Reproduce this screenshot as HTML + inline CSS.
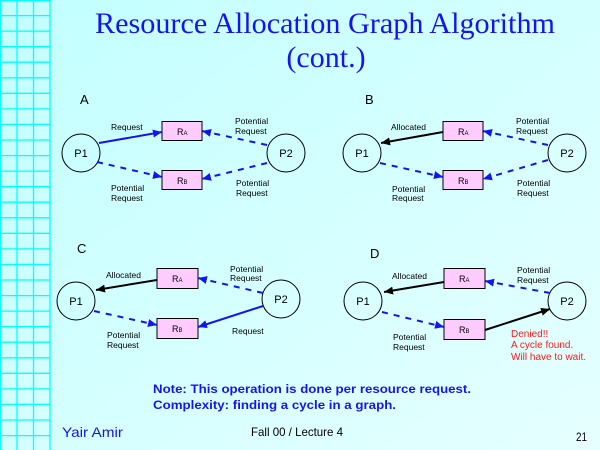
<!DOCTYPE html>
<html><head><meta charset="utf-8"><style>
html,body{margin:0;padding:0;}
body{width:600px;height:450px;overflow:hidden;background:linear-gradient(to bottom right,#c2ffff,#e6ffff);}
svg{display:block;}
</style></head><body>
<svg width="600" height="450" viewBox="0 0 600 450" xmlns="http://www.w3.org/2000/svg" font-family="'Liberation Sans', Arial, sans-serif">
<defs>
<marker id="hb" markerUnits="userSpaceOnUse" markerWidth="10" markerHeight="9" refX="9" refY="4" orient="auto"><path d="M0,0 L9,4 L0,8 z" fill="#1414f0"/></marker>
<marker id="hk" markerUnits="userSpaceOnUse" markerWidth="10" markerHeight="9" refX="9" refY="4" orient="auto"><path d="M0,0 L9,4 L0,8 z" fill="#000"/></marker>
</defs>
<!-- grid -->
<g stroke="#00ffff" stroke-width="1.3">
<line x1="0.7" y1="0" x2="0.7" y2="450"/><line x1="17" y1="0" x2="17" y2="450"/><line x1="33.5" y1="0" x2="33.5" y2="450"/><line x1="50" y1="0" x2="50" y2="450"/>
<line x1="0" y1="0.7" x2="50" y2="0.7"/><line x1="0" y1="15.6" x2="50" y2="15.6"/><line x1="0" y1="31.1" x2="50" y2="31.1"/><line x1="0" y1="46.7" x2="50" y2="46.7"/><line x1="0" y1="62.2" x2="50" y2="62.2"/><line x1="0" y1="77.8" x2="50" y2="77.8"/><line x1="0" y1="93.3" x2="50" y2="93.3"/><line x1="0" y1="108.9" x2="50" y2="108.9"/><line x1="0" y1="124.4" x2="50" y2="124.4"/><line x1="0" y1="140" x2="50" y2="140"/><line x1="0" y1="155.6" x2="50" y2="155.6"/><line x1="0" y1="171.1" x2="50" y2="171.1"/><line x1="0" y1="186.7" x2="50" y2="186.7"/><line x1="0" y1="202.2" x2="50" y2="202.2"/><line x1="0" y1="217.8" x2="50" y2="217.8"/><line x1="0" y1="233.3" x2="50" y2="233.3"/><line x1="0" y1="248.9" x2="50" y2="248.9"/><line x1="0" y1="264.4" x2="50" y2="264.4"/><line x1="0" y1="280" x2="50" y2="280"/><line x1="0" y1="295.6" x2="50" y2="295.6"/><line x1="0" y1="311.1" x2="50" y2="311.1"/><line x1="0" y1="326.7" x2="50" y2="326.7"/><line x1="0" y1="342.2" x2="50" y2="342.2"/><line x1="0" y1="357.8" x2="50" y2="357.8"/><line x1="0" y1="373.3" x2="50" y2="373.3"/><line x1="0" y1="388.9" x2="50" y2="388.9"/><line x1="0" y1="404.4" x2="50" y2="404.4"/><line x1="0" y1="420" x2="50" y2="420"/><line x1="0" y1="435.6" x2="50" y2="435.6"/>
</g>
<!-- title -->
<g font-family="'Liberation Serif', 'Times New Roman', serif" fill="#1414f0" font-size="30" text-anchor="middle">
<text x="325" y="33" textLength="460" lengthAdjust="spacingAndGlyphs">Resource Allocation Graph Algorithm</text>
<text x="326" y="67">(cont.)</text>
</g>

<g font-size="13" fill="#000">
<text x="80" y="104">A</text>
<text x="365" y="104">B</text>
<text x="77" y="253">C</text>
<text x="370" y="258">D</text>
</g>

<!-- circles -->
<g fill="none" stroke="#000" stroke-width="1">
<circle cx="81" cy="153" r="19"/><circle cx="286" cy="153" r="19"/>
<circle cx="362" cy="153" r="19"/><circle cx="567" cy="153" r="19"/>
<circle cx="76" cy="301" r="19"/><circle cx="281" cy="299" r="19"/>
<circle cx="363" cy="301" r="19"/><circle cx="567" cy="301" r="19"/>
</g>
<g font-size="11" fill="#000" text-anchor="middle">
<text x="81" y="157">P1</text><text x="286" y="157">P2</text>
<text x="362" y="157">P1</text><text x="567" y="157">P2</text>
<text x="76" y="305">P1</text><text x="281" y="303">P2</text>
<text x="363" y="305">P1</text><text x="567" y="305">P2</text>
</g>
<!-- boxes -->
<g fill="#ffccff" stroke="#000" stroke-width="1">
<rect x="162" y="121.5" width="40" height="19"/><rect x="162" y="170.5" width="40" height="19"/>
<rect x="443" y="121.5" width="40" height="19"/><rect x="443" y="170.5" width="40" height="19"/>
<rect x="157" y="268.5" width="41" height="20"/><rect x="157" y="318.5" width="41" height="20"/>
<rect x="444" y="268.5" width="41" height="20"/><rect x="444" y="319.5" width="41" height="20"/>
</g>
<g fill="#000">
<text x="177" y="135" font-size="9">R<tspan font-size="6">A</tspan></text>
<text x="177" y="184" font-size="9">R<tspan font-size="6">B</tspan></text>
<text x="458" y="135" font-size="9">R<tspan font-size="6">A</tspan></text>
<text x="458" y="184" font-size="9">R<tspan font-size="6">B</tspan></text>
<text x="172" y="282" font-size="9">R<tspan font-size="6">A</tspan></text>
<text x="172" y="332" font-size="9">R<tspan font-size="6">B</tspan></text>
<text x="459" y="282" font-size="9">R<tspan font-size="6">A</tspan></text>
<text x="459" y="333" font-size="9">R<tspan font-size="6">B</tspan></text>
</g>

<!-- arrows -->
<g stroke-width="2" fill="none">
<!-- A -->
<line x1="99" y1="143" x2="162" y2="132" stroke="#1414f0" marker-end="url(#hb)"/>
<line x1="97" y1="162" x2="162" y2="177" stroke="#1414f0" stroke-dasharray="6,6" marker-end="url(#hb)"/>
<line x1="267" y1="145" x2="202" y2="131" stroke="#1414f0" stroke-dasharray="6,6" marker-end="url(#hb)"/>
<line x1="267" y1="163" x2="202" y2="179" stroke="#1414f0" stroke-dasharray="6,6" marker-end="url(#hb)"/>
<!-- B -->
<line x1="443" y1="132" x2="381" y2="143" stroke="#000" marker-end="url(#hk)"/>
<line x1="380" y1="163" x2="443" y2="177" stroke="#1414f0" stroke-dasharray="6,6" marker-end="url(#hb)"/>
<line x1="548" y1="145" x2="483" y2="131" stroke="#1414f0" stroke-dasharray="6,6" marker-end="url(#hb)"/>
<line x1="548" y1="160" x2="483" y2="179" stroke="#1414f0" stroke-dasharray="6,6" marker-end="url(#hb)"/>
<!-- C -->
<line x1="157" y1="280" x2="96" y2="290" stroke="#000" marker-end="url(#hk)"/>
<line x1="94" y1="311" x2="157" y2="325" stroke="#1414f0" stroke-dasharray="6,6" marker-end="url(#hb)"/>
<line x1="263" y1="293" x2="198" y2="278" stroke="#1414f0" stroke-dasharray="6,6" marker-end="url(#hb)"/>
<line x1="263" y1="306" x2="198" y2="327" stroke="#1414f0" marker-end="url(#hb)"/>
<!-- D -->
<line x1="444" y1="282" x2="384" y2="292" stroke="#000" marker-end="url(#hk)"/>
<line x1="382" y1="312" x2="444" y2="327" stroke="#1414f0" stroke-dasharray="6,6" marker-end="url(#hb)"/>
<line x1="550" y1="293" x2="485" y2="281" stroke="#1414f0" stroke-dasharray="6,6" marker-end="url(#hb)"/>
<line x1="485" y1="330" x2="550" y2="309" stroke="#000" marker-end="url(#hk)"/>
</g>

<!-- edge labels -->
<g font-size="8.5" fill="#000">
<text x="111" y="130">Request</text>
<text x="235" y="124">Potential</text><text x="235" y="134">Request</text>
<text x="111" y="191">Potential</text><text x="111" y="201">Request</text>
<text x="236" y="186">Potential</text><text x="236" y="196">Request</text>

<text x="391" y="130">Allocated</text>
<text x="516" y="124">Potential</text><text x="516" y="134">Request</text>
<text x="392" y="192">Potential</text><text x="392" y="201">Request</text>
<text x="517" y="186">Potential</text><text x="517" y="196">Request</text>

<text x="106" y="278">Allocated</text>
<text x="230" y="272">Potential</text><text x="230" y="281">Request</text>
<text x="232" y="334">Request</text>
<text x="107" y="338">Potential</text><text x="107" y="348">Request</text>

<text x="392" y="279">Allocated</text>
<text x="517" y="273">Potential</text><text x="517" y="283">Request</text>
<text x="393" y="340">Potential</text><text x="393" y="350">Request</text>
</g>
<g font-size="10" fill="#ff1a1a">
<text x="511" y="337">Denied!!</text>
<text x="511" y="348">A cycle found.</text>
<text x="511" y="360">Will have to wait.</text>
</g>

<!-- note -->
<g font-size="12" font-weight="bold" fill="#1414f0">
<text x="153" y="393" textLength="318" lengthAdjust="spacingAndGlyphs">Note: This operation is done per resource request.</text>
<text x="153" y="409" textLength="243" lengthAdjust="spacingAndGlyphs">Complexity: finding a cycle in a graph.</text>
</g>
<!-- footer -->
<text x="62" y="437" font-size="14" fill="#1414f0" textLength="61" lengthAdjust="spacingAndGlyphs">Yair Amir</text>
<text x="251" y="436" font-size="12" fill="#000" textLength="92" lengthAdjust="spacingAndGlyphs">Fall 00 / Lecture 4</text>
<text x="576" y="441" font-size="12" fill="#000" textLength="11" lengthAdjust="spacingAndGlyphs">21</text>
</svg>
</body></html>
